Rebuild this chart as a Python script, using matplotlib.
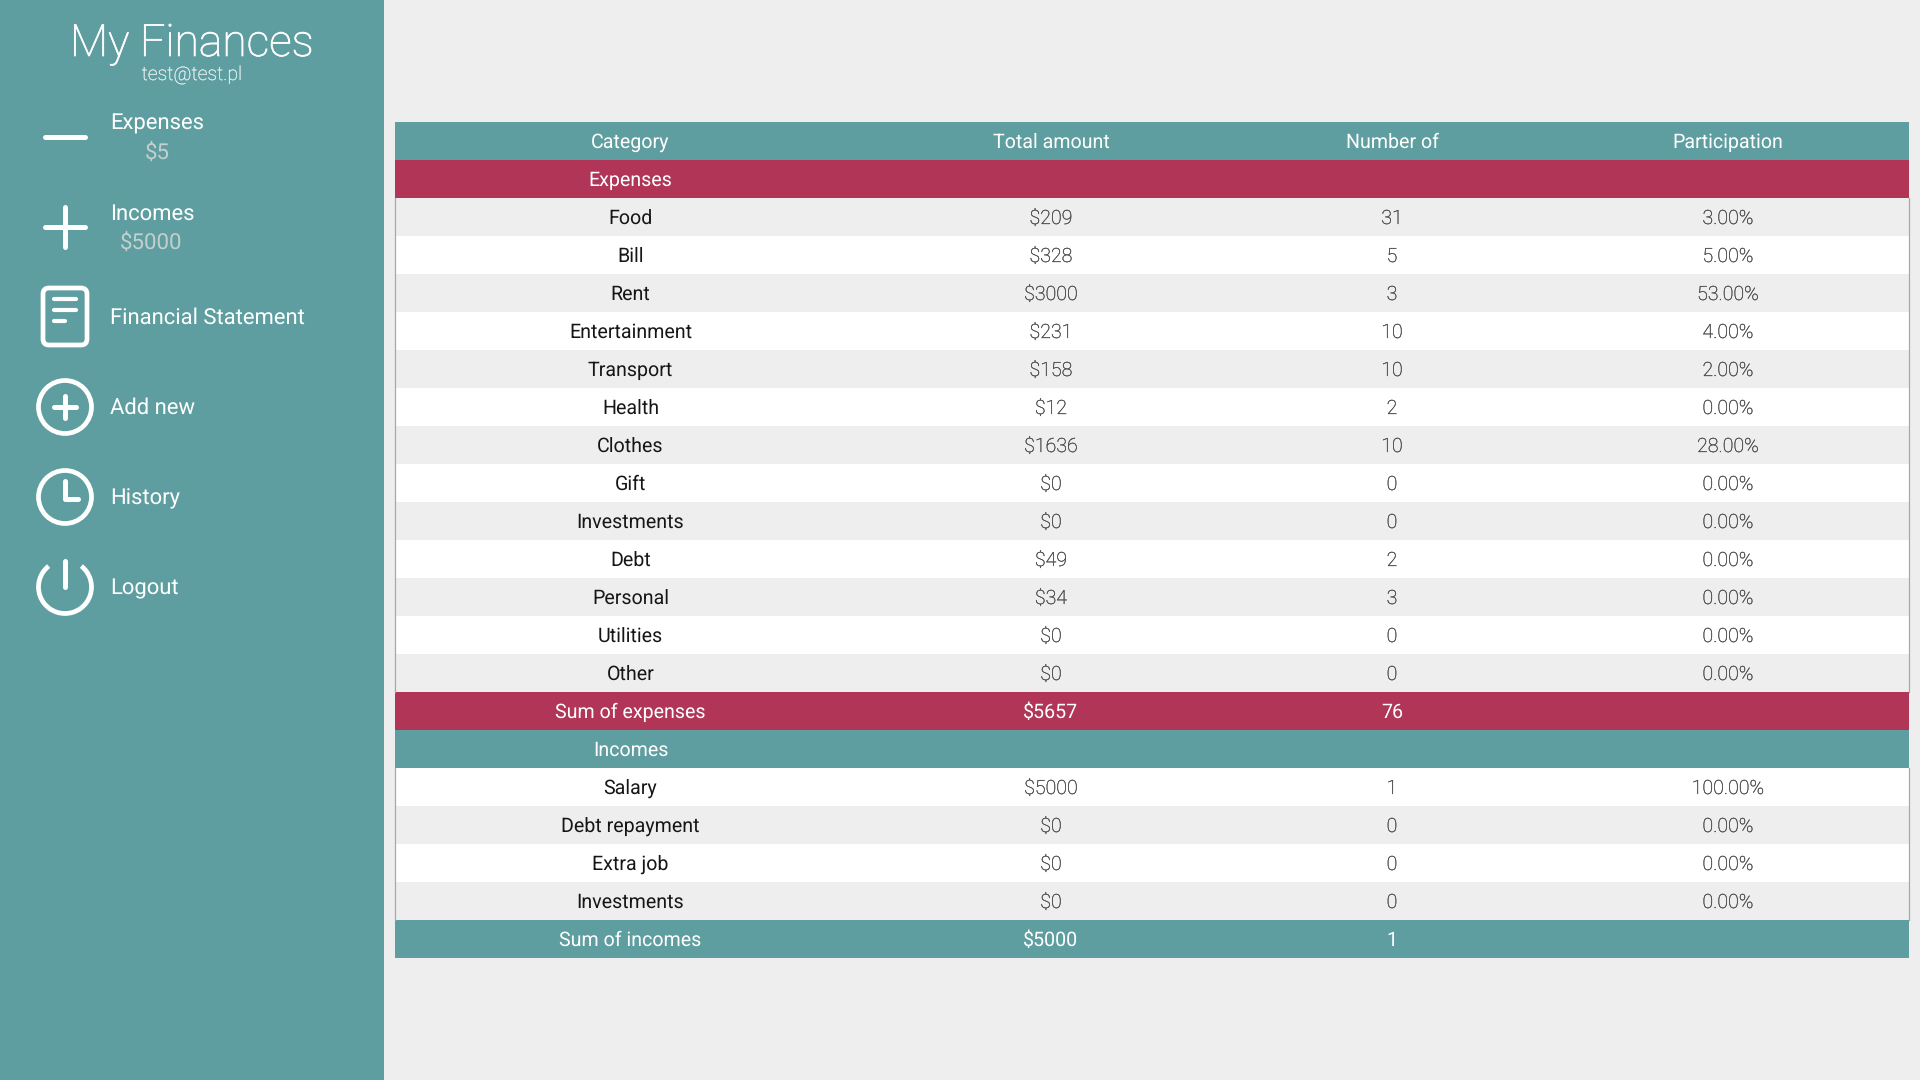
import matplotlib
matplotlib.use('Agg')
import matplotlib.pyplot as plt
import matplotlib.patheffects as pe
from matplotlib.patches import Rectangle, Circle, Arc, FancyBboxPatch

TEAL = '#5f9ea0'
RED = '#b03556'
BG = '#eeeeee'

expense_names = ['Food', 'Bill', 'Rent', 'Entertainment', 'Transport', 'Health', 'Clothes',
                 'Gift', 'Investments', 'Debt', 'Personal', 'Utilities', 'Other']
expense_amount = ['$209', '$328', '$3000', '$231', '$158', '$12', '$1636', '$0', '$0', '$49', '$34', '$0', '$0']
expense_count = ['31', '5', '3', '10', '10', '2', '10', '0', '0', '2', '3', '0', '0']
expense_share = ['3.00%', '5.00%', '53.00%', '4.00%', '2.00%', '0.00%', '28.00%',
                 '0.00%', '0.00%', '0.00%', '0.00%', '0.00%', '0.00%']

income_names = ['Salary', 'Debt repayment', 'Extra job', 'Investments']
income_amount = ['$5000', '$0', '$0', '$0']
income_count = ['1', '0', '0', '0']
income_share = ['100.00%', '0.00%', '0.00%', '0.00%']

header = ['Category', 'Total amount', 'Number of', 'Participation']
menu = ['Financial Statement', 'Add new', 'History', 'Logout']

plt.rcParams['font.family'] = ['Roboto', 'DejaVu Sans']
plt.rcParams['text.hinting'] = 'no_hinting'

fig = plt.figure(figsize=(19.2, 10.8), dpi=100, facecolor=BG)
ax = fig.add_axes([0, 0, 1, 1])
ax.set_xlim(0, 1920)
ax.set_ylim(1080, 0)
ax.axis('off')


def thick(color, w):
    # the installed light face is thinner than the one in the picture
    return [pe.withStroke(linewidth=w, foreground=color)]


# sidebar
ax.add_patch(Rectangle((0, 0), 384, 1080, fc=TEAL, ec='none'))
ax.text(192, 56, 'My Finances', color='white', fontsize=32, fontweight='light', ha='center', va='baseline',
        path_effects=thick('white', 0.5))
ax.text(192, 80, 'test@test.pl', color='#e4eeee', fontsize=14, fontweight='light', ha='center', va='baseline',
        path_effects=thick('#e4eeee', 0.2))

ax.text(110, 130, 'Expenses', color='white', fontsize=15.8, va='baseline')
ax.text(157, 159, '$5', color='#c3cfcf', fontsize=16, ha='center', va='baseline')
ax.text(110, 220, 'Incomes', color='white', fontsize=15.8, va='baseline')
ax.text(151, 249, '$5000', color='#c3cfcf', fontsize=16, ha='center', va='baseline')
for label, y in zip(menu, [324, 414, 504, 594]):
    ax.text(110, y, label, color='white', fontsize=15.8, va='baseline')


# icons
def stroke(xs, ys, lw=3.6):
    ax.plot(xs, ys, color='white', lw=lw, solid_capstyle='round', solid_joinstyle='round')


stroke([45, 85], [137, 137])
stroke([45, 85], [227, 227])
stroke([65, 65], [207, 247])

ax.add_patch(FancyBboxPatch((43, 288), 44, 57, boxstyle='round,pad=0,rounding_size=6',
                            fc='none', ec='white', lw=3.4))
stroke([54, 76], [299, 299], 3)
stroke([54, 76], [310, 310], 3)
stroke([54, 65], [321, 321], 3)

ax.add_patch(Circle((65, 407), 26.5, fc='none', ec='white', lw=3.4))
stroke([54, 76], [407, 407])
stroke([65, 65], [396, 418])

ax.add_patch(Circle((65, 497), 26.5, fc='none', ec='white', lw=3.4))
stroke([65, 65, 78], [481, 499, 499])

ax.add_patch(Arc((65, 587), 53, 53, theta1=308, theta2=592, ec='white', lw=3.4))
stroke([65, 65], [561, 587])

# table
left, right = 395, 1909
top = 122
row_h = 38
col_x = [630.5, 1051, 1392, 1728]

rows = [(header, TEAL, 'header'), (['Expenses', '', '', ''], RED, 'header')]
for i, row in enumerate(zip(expense_names, expense_amount, expense_count, expense_share)):
    rows.append((row, BG if i % 2 == 0 else 'white', 'body'))
rows.append((['Sum of expenses', '$5657', '76', ''], RED, 'sum'))
rows.append((['Incomes', '', '', ''], TEAL, 'header'))
for i, row in enumerate(zip(income_names, income_amount, income_count, income_share)):
    rows.append((row, 'white' if i % 2 == 0 else BG, 'body'))
rows.append((['Sum of incomes', '$5000', '1', ''], TEAL, 'sum'))

for r, (cells, fill, kind) in enumerate(rows):
    y = top + r * row_h
    ax.add_patch(Rectangle((left, y), right - left, row_h, fc=fill, ec='none'))
    for c, (x, txt) in enumerate(zip(col_x, cells)):
        effects = None
        if kind == 'body':
            color = '#161616' if c == 0 else '#484848'
            weight = 'normal' if c == 0 else 'light'
            if c > 0:
                effects = thick(color, 0.2)
        else:
            color = 'white'
            weight = 'normal'
        ax.text(x, y + 26, txt, color=color, fontsize=14.1, fontweight=weight, ha='center', va='baseline',
                path_effects=effects)

for x in [left, right]:
    ax.plot([x, x], [top + 2 * row_h, top + 15 * row_h], color='#a8a8a8', lw=0.9)
    ax.plot([x, x], [top + 17 * row_h, top + 21 * row_h], color='#a8a8a8', lw=0.9)

fig.savefig('out.png', dpi=100, facecolor=BG)
